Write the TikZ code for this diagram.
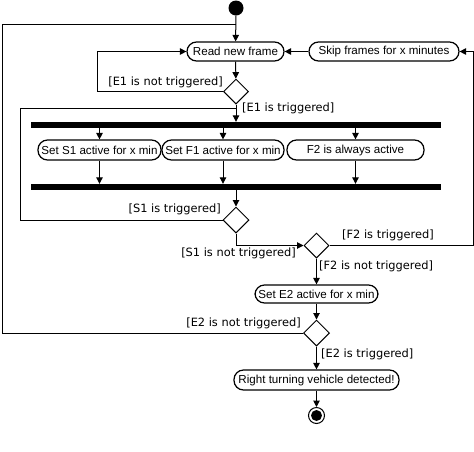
\documentclass[tikz,border=0pt]{standalone}
\usepackage{fontspec}
\setmainfont{Liberation Sans}
\newfontfamily\labelfont{DejaVu Sans}
\usetikzlibrary{shapes.geometric,arrows.meta}
\begin{document}
\begin{tikzpicture}[x=1pt,y=-1pt,
  activity/.style={draw,line width=1.2pt,rounded corners=9.5pt,minimum height=19pt,inner sep=0pt,font=\fontsize{11.6}{13}\selectfont},
  decision/.style={draw,diamond,line width=1pt,minimum width=25pt,minimum height=25pt,inner sep=0pt},
  bar/.style={fill=black,minimum width=410pt,minimum height=6pt,inner sep=0pt},
  guard/.style={inner sep=0pt,font=\labelfont\fontsize{11.4}{13}\selectfont},
  arr/.style={line width=1pt,-{Triangle[length=6.5pt,width=6.5pt]}},
  flow/.style={line width=1pt}]

  \useasboundingbox (0,0) rectangle (474,451);

  % start and end
  \node[circle,fill=black,minimum size=15pt,inner sep=0pt] (start) at (236,8) {};
  \node[circle,draw,line width=1pt,minimum size=16pt,inner sep=0pt] (stop) at (316.5,415.5) {};
  \fill (stop) circle (5.5pt);

  % activities
  \node[activity,minimum width=97pt] (read) at (235.5,51.5) {Read new frame};
  \node[activity,minimum width=150pt] (skip) at (384,51.5) {Skip frames for x minutes};
  \node[activity,minimum width=123pt,minimum height=20pt] (setS) at (99.5,150) {Set S1 active for x min};
  \node[activity,minimum width=122pt,minimum height=20pt] (setF) at (223,150) {Set F1 active for x min};
  \node[activity,minimum width=137pt,minimum height=20pt] (alwF) at (355.5,150) {\raisebox{1.5pt}{F2 is always active}};
  \node[activity,minimum width=123pt,minimum height=18pt] (setE) at (316.5,294) {Set E2 active for x min};
  \node[activity,minimum width=165pt,minimum height=20pt] (found) at (316.5,380) {Right turning vehicle detected!};

  % fork and join bars
  \node[bar] (fork) at (236,125) {};
  \node[bar] (join) at (236,187) {};

  % decisions
  \node[decision] (dE1) at (236,91.5) {};
  \node[decision,minimum width=26pt,minimum height=26pt] (dS1) at (236,220) {};
  \node[decision] (dF2) at (316.5,245.5) {};
  \node[decision,minimum width=26pt,minimum height=26pt] (dE2) at (316.5,333) {};

  % loop corners
  \coordinate (top) at (236,24);
  \coordinate (outer) at (2,24);
  \coordinate (back) at (97,51.5);
  \coordinate (mid) at (236,108);
  \coordinate (inner) at (20,108);
  \coordinate (right) at (473,51.5);

  % connectors
  \draw[arr] (start) -- (read);
  \draw[arr] (skip) -- (read);
  \draw[arr] (read) -- (dE1);
  \draw[arr] (dE1.west) -| (back) -- (read.west);
  \draw[arr] (dE1.south) -- (fork.north);
  \draw[arr] (fork.south -| setS) -- (setS);
  \draw[arr] (fork.south -| setF) -- (setF);
  \draw[arr] (fork.south -| alwF) -- (alwF);
  \draw[arr] (setS) -- (setS |- join.north);
  \draw[arr] (setF) -- (setF |- join.north);
  \draw[arr] (alwF) -- (alwF |- join.north);
  \draw[arr] (join.south) -- (dS1.north);
  \draw[flow] (dS1.west) -| (inner) -- (mid);
  \draw[arr] (dS1.south) |- (dF2.west);
  \draw[arr] (dF2.east) -| (right) -- (skip.east);
  \draw[arr] (dF2.south) -- (setE);
  \draw[arr] (setE) -- (dE2);
  \draw[flow] (dE2.west) -| (outer) -- (top);
  \draw[arr] (dE2.south) -- (found);
  \draw[arr] (found) -- (stop);

  % guards
  \node[guard,anchor=east] (gE1no) at (223,82.5) {[E1 is not triggered]};
  \node[guard,anchor=west] (gE1) at (242,108) {[E1 is triggered]};
  \node[guard,anchor=east] (gS1) at (221,209.5) {[S1 is triggered]};
  \node[guard,anchor=east] (gS1no) at (296,253) {[S1 is not triggered]};
  \node[guard,anchor=west] (gF2) at (342,235.5) {[F2 is triggered]};
  \node[guard,anchor=west] (gF2no) at (319,266.5) {[F2 is not triggered]};
  \node[guard,anchor=east] (gE2no) at (301,323) {[E2 is not triggered]};
  \node[guard,anchor=west] (gE2) at (321,354) {[E2 is triggered]};

\end{tikzpicture}
\end{document}
